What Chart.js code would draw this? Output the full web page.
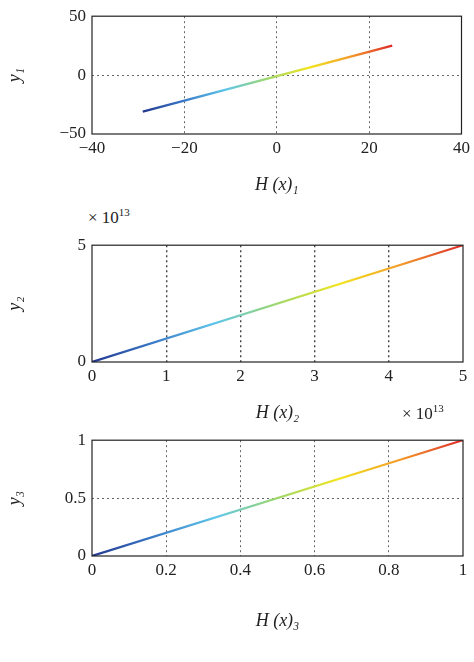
<!DOCTYPE html>
<html><head><meta charset="utf-8">
<script src="https://cdn.jsdelivr.net/npm/chart.js@4.4.0/dist/chart.umd.min.js"></script>
<style>
body{margin:0;background:#fff;width:474px;height:662px;position:relative;overflow:hidden;font-family:"Liberation Serif",serif}
.box{position:absolute;left:0;width:474px}
.lbl{position:absolute;font-size:17px;color:#222}
</style></head><body>
<div class="box" style="top:0;height:200px"><canvas id="c1"></canvas></div>
<div class="box" style="top:229px;height:199px"><canvas id="c2"></canvas></div>
<div class="box" style="top:424px;height:212px"><canvas id="c3"></canvas></div>
<div class="lbl" style="left:88px;top:206px">× 10<sup style="font-size:11px">13</sup></div>
<div class="lbl" style="left:402px;top:402px">× 10<sup style="font-size:11px">13</sup></div>
<script>
// subplot 1
const x1 = [-29, 25];
const y1 = [-31, 25];
// subplot 2 (units of 1e13)
const x2 = [0, 5];
const y2 = [0, 5];
// subplot 3
const x3 = [0, 1];
const y3 = [0, 1];

const jet = ['#23378f', '#3a7bc8', '#5ec6ea', '#9fd86b', '#f2e51e', '#f39a2a', '#dd2a2a'];
const tickFont = {family: 'Liberation Serif', size: 17};

function gradStroke(ctx) {
  const chart = ctx.chart, a = chart.chartArea;
  if (!a || !chart.scales.x || !chart.scales.y) return jet[0];
  const d = chart.data.datasets[0].data;
  const sx = chart.scales.x, sy = chart.scales.y;
  const X0 = sx.getPixelForValue(d[0].x), Y0 = sy.getPixelForValue(d[0].y);
  const X1 = sx.getPixelForValue(d[d.length - 1].x), Y1 = sy.getPixelForValue(d[d.length - 1].y);
  if (![X0, Y0, X1, Y1].every(Number.isFinite)) return jet[0];
  const g = chart.ctx.createLinearGradient(X0, Y0, X1, Y1);
  jet.forEach((c, i) => g.addColorStop(i / (jet.length - 1), c));
  return g;
}

const frame = {
  id: 'frame',
  afterDraw(chart) {
    const a = chart.chartArea, c = chart.ctx;
    c.save(); c.strokeStyle = '#222'; c.lineWidth = 1.2;
    c.strokeRect(a.left, a.top, a.right - a.left, a.bottom - a.top);
    c.restore();
  }
};

function make(id, xs, ys, xr, yr, xstep, ystep, yGridAt, xTitle, yTitle, xh, xGridDark) {
  new Chart(document.getElementById(id), {
    type: 'scatter',
    data: {datasets: [{
      data: xs.map((x, i) => ({x, y: ys[i]})),
      showLine: true, pointRadius: 0, borderWidth: 2.2,
      borderColor: gradStroke
    }]},
    options: {
      responsive: true, maintainAspectRatio: false, animation: false,
      layout: {padding: {top: 13, right: 11}},
      plugins: {legend: {display: false}, tooltip: {enabled: false}},
      scales: {
        x: {
          min: xr[0], max: xr[1],
          ticks: {stepSize: xstep, font: tickFont, color: '#222', padding: 4,
            callback: v => String(Math.round(v * 100) / 100).replace('-', '−')},
          grid: {drawTicks: false, lineWidth: xGridDark ? 1.4 : 1,
            color: c => (c.tick && c.tick.value > xr[0] && c.tick.value < xr[1]) ? (xGridDark ? '#444' : '#666') : 'rgba(0,0,0,0)'},
          border: {display: false, dash: [2, 3]},
          title: {display: true, text: xTitle, font: {family: 'Liberation Serif', size: 18, style: 'italic'}, color: '#222', padding: {top: 0}},
          afterFit: s => { s.height = xh; }
        },
        y: {
          min: yr[0], max: yr[1],
          ticks: {stepSize: ystep, font: tickFont, color: '#222', padding: 6,
            callback: v => String(Math.round(v * 100) / 100).replace('-', '−')},
          grid: {drawTicks: false,
            color: c => (c.tick && yGridAt.includes(c.tick.value)) ? '#666' : 'rgba(0,0,0,0)'},
          border: {display: false, dash: [2, 3]},
          title: {display: true, text: yTitle, font: {family: 'Liberation Serif', size: 18, style: 'italic'}, color: '#222', padding: {bottom: 2}},
          afterFit: s => { s.width = 92; }
        }
      }
    },
    plugins: [frame]
  });
}

make('c1', x1, y1, [-40, 40], [-50, 50], 20, 50, [0], 'H (x)₁', 'y₁', 66, false);
make('c2', x2, y2, [0, 5], [0, 5], 1, 5, [], 'H (x)₂', 'y₂', 66, true);
make('c3', x3, y3, [0, 1], [0, 1], 0.2, 0.5, [0.5], 'H (x)₃', 'y₃', 80, false);
</script>
</body></html>
